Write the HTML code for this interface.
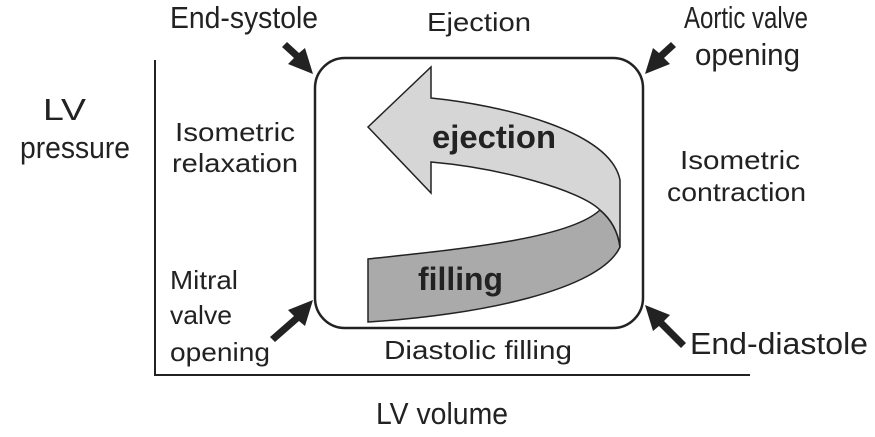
<!DOCTYPE html>
<html><head><style>body{margin:0;background:#fff}svg{display:block}</style></head><body>
<svg width="875" height="437" viewBox="0 0 875 437" font-family="Liberation Sans, sans-serif" fill="#222">
<line x1="155" y1="60" x2="155" y2="376" stroke="#222" stroke-width="2"/>
<line x1="154" y1="375" x2="750" y2="375" stroke="#222" stroke-width="2"/>
<rect x="315" y="58" width="328" height="270" rx="30" fill="#fff" stroke="#222" stroke-width="2.5"/>
<path d="M368,259 C470,248 570,238 600,210 C612,220 618,232 620,247 C600,290 480,315 368,322 Z" fill="#aaa" stroke="#222" stroke-width="1.5"/>
<path d="M431,98 L431,67 L368,127 L431,193 L431,162 C500,168 580,190 600,210 C612,220 618,232 620,247 L620,180 C610,130 500,105 431,98 Z" fill="#d6d6d6" stroke="#222" stroke-width="1.5"/>
<g fill="#222">
<polygon points="313,74 288,64 294,58 282,47 287,42 299,53 305,48"/>
<polygon points="645,74 670,64 664,58 676,47 671,42 659,53 653,48"/>
<polygon points="313,300 288,310 294,316 270,337 275,342 299,321 305,326"/>
<polygon points="645,305 670,315 664,321 686,343 681,348 659,326 653,331"/>
</g>
<g font-size="31">
<text x="170" y="28" textLength="148" lengthAdjust="spacingAndGlyphs">End-systole</text>
<text x="684" y="28" textLength="124" lengthAdjust="spacingAndGlyphs">Aortic valve</text>
<text x="695" y="65" textLength="105" lengthAdjust="spacingAndGlyphs">opening</text>
<text x="43" y="120" textLength="43" lengthAdjust="spacingAndGlyphs">LV</text>
<text x="20" y="158" textLength="110" lengthAdjust="spacingAndGlyphs">pressure</text>
<text x="690" y="354" textLength="178" lengthAdjust="spacingAndGlyphs">End-diastole</text>
<text x="376" y="424" textLength="132" lengthAdjust="spacingAndGlyphs">LV volume</text>
</g>
<g font-size="26">
<text x="427" y="31" textLength="104" lengthAdjust="spacingAndGlyphs">Ejection</text>
<text x="175" y="141" textLength="120" lengthAdjust="spacingAndGlyphs">Isometric</text>
<text x="172" y="172" textLength="126" lengthAdjust="spacingAndGlyphs">relaxation</text>
<text x="680" y="169" textLength="120" lengthAdjust="spacingAndGlyphs">Isometric</text>
<text x="667" y="201" textLength="139" lengthAdjust="spacingAndGlyphs">contraction</text>
<text x="384" y="359" textLength="188" lengthAdjust="spacingAndGlyphs">Diastolic filling</text>
<text x="170" y="289" textLength="68" lengthAdjust="spacingAndGlyphs">Mitral</text>
<text x="170" y="324" textLength="62" lengthAdjust="spacingAndGlyphs">valve</text>
<text x="170" y="361" textLength="100" lengthAdjust="spacingAndGlyphs">opening</text>
</g>
<g font-size="32" font-weight="bold">
<text x="432" y="148" textLength="124" lengthAdjust="spacingAndGlyphs">ejection</text>
<text x="418" y="290" textLength="85" lengthAdjust="spacingAndGlyphs">filling</text>
</g>
</svg>
</body></html>
